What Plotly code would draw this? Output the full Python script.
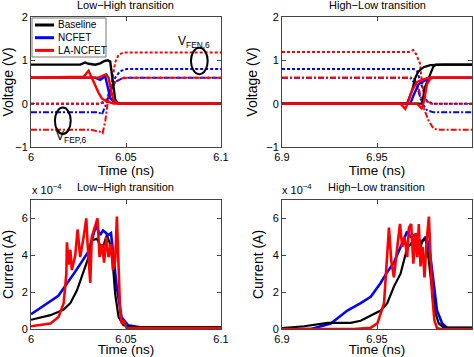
import plotly.graph_objects as go

# ---------------- data ----------------
# Top-left: Low-High transition, voltage (V) vs time (ns)
tl_black_t = [6.0, 6.0259, 6.0285, 6.0303, 6.0338, 6.0364, 6.0385, 6.0403, 6.0417, 6.0426, 6.0434, 6.0443, 6.0455, 6.0478, 6.1]
tl_black_v = [0.9, 0.9, 0.95, 0.92, 0.9, 0.93, 0.98, 1.0, 0.97, 0.7, 0.35, 0.1, 0.02, 0.0, 0.0]
tl_blue_t = [6.0, 6.0338, 6.0364, 6.0391, 6.0403, 6.0417, 6.0443, 6.047, 6.1]
tl_blue_v = [0.6, 0.6, 0.55, 0.63, 0.4, 0.12, 0.02, 0.0, 0.0]
tl_red1_t = [6.0, 6.0277, 6.0303, 6.0320, 6.0338, 6.0356, 6.0373, 6.0399, 6.0434, 6.1]
tl_red1_v = [0.6, 0.62, 0.76, 0.6, 0.4, 0.25, 0.12, 0.05, 0.0, 0.0]
tl_red2_t = [6.0, 6.0356, 6.0396, 6.0408, 6.0422, 6.0434, 6.0461, 6.1]
tl_red2_v = [0.6, 0.6, 0.68, 0.6, 0.3, 0.08, 0.0, 0.0]
tl_red_fen_t = [6.0, 6.0364, 6.0399, 6.0426, 6.0443, 6.0461, 6.0487, 6.1]
tl_red_fen_v = [0.0, 0.0, 0.1, 0.5, 0.95, 1.13, 1.18, 1.18]
tl_blue_fen_t = [6.0, 6.0364, 6.0399, 6.0422, 6.0443, 6.0469, 6.0504, 6.1]
tl_blue_fen_v = [0.0, 0.0, 0.05, 0.3, 0.6, 0.75, 0.8, 0.8]
tl_red_fep_t = [6.0, 6.0312, 6.0364, 6.0377, 6.0391, 6.0403, 6.0420, 6.0443, 6.0478, 6.0504, 6.1]
tl_red_fep_v = [-0.6, -0.6, -0.65, -0.68, -0.4, 0.0, 0.3, 0.5, 0.58, 0.6, 0.6]
tl_blue_fep_t = [6.0, 6.0356, 6.0373, 6.0396, 6.0417, 6.0443, 6.0487, 6.1]
tl_blue_fep_v = [-0.2, -0.2, -0.25, 0.0, 0.3, 0.5, 0.6, 0.6]

# Top-right: High-Low transition
tr_black1_t = [6.9, 6.9658, 6.9684, 6.9702, 6.9717, 6.9745, 6.978, 6.985, 7.0]
tr_black1_v = [0.0, 0.0, 0.3, 0.6, 0.74, 0.84, 0.89, 0.9, 0.9]
tr_black2_t = [6.9, 6.9737, 6.9753, 6.9775, 6.9796, 6.981, 7.0]
tr_black2_v = [0.0, 0.0, 0.39, 0.65, 0.85, 0.9, 0.9]
tr_blue_t = [6.9, 6.9675, 6.9693, 6.9719, 6.9746, 6.9781, 7.0]
tr_blue_v = [0.0, 0.0, 0.2, 0.45, 0.52, 0.6, 0.6]
tr_red1_t = [6.9, 6.9623, 6.9649, 6.9661, 6.9684, 6.9711, 6.9737, 6.9772, 7.0]
tr_red1_v = [0.0, 0.0, -0.12, 0.0, 0.3, 0.5, 0.55, 0.6, 0.6]
tr_red2_t = [6.9, 6.9711, 6.9737, 6.9749, 6.9763, 6.9781, 6.9798, 7.0]
tr_red2_v = [0.0, 0.0, -0.12, 0.1, 0.45, 0.58, 0.6, 0.6]
tr_red_fen_t = [6.9, 6.9668, 6.9691, 6.9705, 6.9726, 6.9735, 6.9750, 6.9775, 7.0]
tr_red_fen_v = [1.19, 1.19, 1.24, 1.15, 0.93, 0.55, 0.15, 0.0, 0.0]
tr_blue_fen_t = [6.9, 6.9693, 6.9711, 6.9737, 6.9763, 6.9798, 7.0]
tr_blue_fen_v = [0.8, 0.8, 0.75, 0.4, 0.05, 0.0, 0.0]
tr_red_fep_t = [6.9, 6.9658, 6.9693, 6.9719, 6.9746, 6.9772, 6.9798, 6.9833, 7.0]
tr_red_fep_v = [0.6, 0.6, 0.6, 0.35, -0.1, -0.4, -0.58, -0.6, -0.6]
tr_blue_fep_t = [6.9, 6.9675, 6.9711, 6.9737, 6.9763, 6.9798, 7.0]
tr_blue_fep_v = [0.6, 0.6, 0.4, 0.0, -0.15, -0.2, -0.2]

# Bottom-left: Low-High transition, current (x 1e-4 A)
bl_blue_t = [6.0, 6.0144, 6.0232, 6.0302, 6.0342, 6.0364, 6.0379, 6.0407, 6.0421, 6.0433, 6.0451, 6.0477, 6.0511, 6.0583, 6.1]
bl_blue_v = [0.8, 1.8, 3.1, 4.2, 5.6, 5.1, 5.35, 5.1, 5.2, 4.1, 2.3, 0.63, 0.2, 0.08, 0.08]
bl_black_t = [6.0, 6.0102, 6.0172, 6.0207, 6.0242, 6.0277, 6.0303, 6.0320, 6.0347, 6.0373, 6.0382, 6.0399, 6.0417, 6.0431, 6.0443, 6.0461, 6.0487, 6.0539, 6.1]
bl_black_v = [0.5, 0.75, 1.05, 1.4, 2.1, 3.2, 3.9, 4.8, 4.9, 4.35, 4.55, 5.1, 4.6, 3.5, 1.9, 0.65, 0.2, 0.1, 0.1]
bl_red_t = [6.0, 6.0102, 6.0145, 6.0172, 6.0186, 6.0189, 6.0198, 6.0207, 6.0215, 6.0233, 6.0245, 6.0259,
            6.0277, 6.0291, 6.0298, 6.0312, 6.0320, 6.0338, 6.0350, 6.0361, 6.0373, 6.0385, 6.0396, 6.0408,
            6.0422, 6.0431, 6.0443, 6.0452, 6.0461, 6.0469, 6.0478, 6.0490, 6.0504, 6.1]
bl_red_v = [0.15, 0.3, 0.65, 1.4, 3.0, 4.7, 3.5, 4.3, 3.2, 4.0, 5.4, 3.9,
            5.0, 6.0, 4.6, 2.5, 5.0, 5.6, 6.0, 3.9, 4.6, 3.6, 5.0, 3.9,
            4.6, 3.2, 3.7, 6.1, 3.5, 1.0, 0.3, 0.4, 0.05, 0.05]

# Bottom-right: High-Low transition, current (x 1e-4 A)
br_black_t = [6.9, 6.9117, 6.9240, 6.9362, 6.9414, 6.9467, 6.9519, 6.9554, 6.9589, 6.9624, 6.9642, 6.9659,
              6.9677, 6.9694, 6.9712, 6.9726, 6.9738, 6.9755, 6.9773, 6.9790, 6.9808, 6.9825, 6.9851, 7.0]
br_black_v = [0.05, 0.15, 0.33, 0.33, 0.45, 0.75, 1.0, 1.4, 2.3, 3.0, 3.7, 4.4,
              4.6, 4.9, 5.1, 4.3, 4.8, 4.9, 3.7, 2.1, 0.85, 0.3, 0.08, 0.08]
br_blue_t = [6.9, 6.9152, 6.9257, 6.9344, 6.9414, 6.9467, 6.9519, 6.9554, 6.9589, 6.9624, 6.9659, 6.9677,
             6.9712, 6.9729, 6.9755, 6.9773, 6.9799, 6.9816, 6.9843, 6.9869, 7.0]
br_blue_v = [0.0, 0.0, 0.3, 1.0, 1.4, 1.75, 2.5, 3.1, 3.6, 4.45, 5.3, 5.0,
             5.15, 4.6, 5.0, 4.6, 2.3, 1.0, 0.3, 0.07, 0.05]
br_red_t = [6.9, 6.9379, 6.9467, 6.9502, 6.9537, 6.9551, 6.9563, 6.9575, 6.9589, 6.9603, 6.9621, 6.9633,
            6.9645, 6.9659, 6.9668, 6.9680, 6.9691, 6.9703, 6.9712, 6.9720, 6.9729, 6.9740, 6.9750, 6.9760,
            6.9773, 6.9781, 6.9790, 6.9802, 6.9816, 6.9834, 7.0]
br_red_v = [0.0, 0.0, 0.07, 0.3, 1.4, 3.7, 5.5, 3.7, 2.8, 4.1, 5.7, 4.45,
            5.0, 3.9, 5.5, 5.7, 3.55, 5.2, 3.9, 5.7, 3.4, 4.45, 2.8, 4.6,
            6.1, 4.1, 1.9, 0.47, 0.05, 0.0, 0.0]

series_names = ["Baseline", "NCFET", "LA-NCFET"]
titles = ["Low\u2212High transition", "High\u2212Low transition"]

# ---------------- styles ----------------
BLACK = "#000000"
BLUE = "#0000ff"
RED = "#ff0000"
SERIES_COLORS = [BLACK, BLUE, RED]
FONT = "Liberation Sans, Arial, sans-serif"
DASH = "3px,2px"
DASHDOT = "6px,2px,2px,2px"

W, H = 474, 357


def px_x(a, b):
    return [a / W, b / W]


def px_y(top, bottom):
    return [1 - bottom / H, 1 - top / H]


fig = go.Figure()


def add(t, v, color, ax, width=2.2, dash=None, name=None):
    line = dict(color=color, width=width)
    if dash:
        line["dash"] = dash
    kw = dict(x=t, y=v, mode="lines", line=line, xaxis="x" + ax, yaxis="y" + ax,
              showlegend=False, hoverinfo="skip")
    if name:
        kw["name"] = name
    fig.add_trace(go.Scatter(**kw))


# Top-left
add(tl_blue_fen_t, tl_blue_fen_v, BLUE, "", 2, DASH)
add(tl_red_fen_t, tl_red_fen_v, RED, "", 2, DASH)
add(tl_blue_fep_t, tl_blue_fep_v, BLUE, "", 2, DASHDOT)
add(tl_red_fep_t, tl_red_fep_v, RED, "", 2, DASHDOT)
add(tl_black_t, tl_black_v, BLACK, "", 2.4, name=series_names[0])
add(tl_blue_t, tl_blue_v, BLUE, "", 2.4, name=series_names[1])
add(tl_red1_t, tl_red1_v, RED, "", 2.4, name=series_names[2])
add(tl_red2_t, tl_red2_v, RED, "", 2.4)

# Top-right
add(tr_blue_fen_t, tr_blue_fen_v, BLUE, "2", 2, DASH)
add(tr_red_fen_t, tr_red_fen_v, RED, "2", 2, DASH)
add(tr_blue_fep_t, tr_blue_fep_v, BLUE, "2", 2, DASHDOT)
add(tr_red_fep_t, tr_red_fep_v, RED, "2", 2, DASHDOT)
add(tr_black1_t, tr_black1_v, BLACK, "2", 2.2)
add(tr_black2_t, tr_black2_v, BLACK, "2", 2.2)
add(tr_blue_t, tr_blue_v, BLUE, "2", 2.4)
add(tr_red1_t, tr_red1_v, RED, "2", 2.4)
add(tr_red2_t, tr_red2_v, RED, "2", 2.4)

# Bottom-left
add(bl_blue_t, bl_blue_v, BLUE, "3", 2.6)
add(bl_black_t, bl_black_v, BLACK, "3", 2.2)
add(bl_red_t, bl_red_v, RED, "3", 2.6)

# Bottom-right
add(br_blue_t, br_blue_v, BLUE, "4", 2.6)
add(br_black_t, br_black_v, BLACK, "4", 2.2)
add(br_red_t, br_red_v, RED, "4", 2.6)

axis_common = dict(showline=True, linecolor="#444", linewidth=1, mirror="ticks",
                   ticks="inside", ticklen=4, tickcolor="#444", showgrid=False,
                   zeroline=False, automargin=False,
                   tickfont=dict(family=FONT, size=11, color="black"))

xl = px_x(31, 221)
xr = px_x(282, 472)
yt = px_y(17, 147)
yb = px_y(200, 329)

xt_title = dict(text="Time (ns)", font=dict(family=FONT, size=13.5, color="black"), standoff=3)
yt_font = dict(family=FONT, size=14, color="black")

fig.update_layout(
    width=W, height=H, margin=dict(l=0, r=0, t=0, b=0),
    paper_bgcolor="white", plot_bgcolor="white",
    font=dict(family=FONT, color="black"),
    showlegend=False,
    xaxis=dict(domain=xl, range=[6, 6.1], tickvals=[6, 6.05, 6.1], ticktext=["6", "6.05", "6.1"],
               anchor="y", title=xt_title, **axis_common),
    yaxis=dict(domain=yt, range=[-1, 2], tickvals=[-1, 0, 1, 2], anchor="x",
               title=dict(text="Voltage (V)", font=yt_font, standoff=5), **axis_common),
    xaxis2=dict(domain=xr, range=[6.9, 7.0], tickvals=[6.9, 6.95, 7.0], ticktext=["6.9", "6.95", "7"],
                anchor="y2", title=xt_title, **axis_common),
    yaxis2=dict(domain=yt, range=[-1, 2], tickvals=[-1, 0, 1, 2], anchor="x2",
                title=dict(text="Voltage (V)", font=yt_font, standoff=5), **axis_common),
    xaxis3=dict(domain=xl, range=[6, 6.1], tickvals=[6, 6.05, 6.1], ticktext=["6", "6.05", "6.1"],
                anchor="y3", title=xt_title, **axis_common),
    yaxis3=dict(domain=yb, range=[0, 7], tickvals=[0, 2, 4, 6], anchor="x3",
                title=dict(text="Current (A)", font=yt_font, standoff=5), **axis_common),
    xaxis4=dict(domain=xr, range=[6.9, 7.0], tickvals=[6.9, 6.95, 7.0], ticktext=["6.9", "6.95", "7"],
                anchor="y4", title=xt_title, **axis_common),
    yaxis4=dict(domain=yb, range=[0, 7], tickvals=[0, 2, 4, 6], anchor="x4",
                title=dict(text="Current (A)", font=yt_font, standoff=5), **axis_common),
)

ann = []
title_font = dict(family=FONT, size=11, color="black")
ann.append(dict(text=titles[0], x=126 / W, y=1 - 5 / H, xref="paper", yref="paper",
                showarrow=False, font=title_font, xanchor="center", yanchor="middle"))
ann.append(dict(text=titles[1], x=377 / W, y=1 - 5 / H, xref="paper", yref="paper",
                showarrow=False, font=title_font, xanchor="center", yanchor="middle"))
ann.append(dict(text=titles[0], x=126 / W, y=1 - 187 / H, xref="paper", yref="paper",
                showarrow=False, font=title_font, xanchor="center", yanchor="middle"))
ann.append(dict(text=titles[1], x=376 / W, y=1 - 187 / H, xref="paper", yref="paper",
                showarrow=False, font=title_font, xanchor="center", yanchor="middle"))
for xp in (30, 280):
    ann.append(dict(text="x 10<sup>\u22124</sup>", x=xp / W, y=1 - 198 / H, xref="paper", yref="paper",
                    showarrow=False, font=dict(family=FONT, size=11, color="black"),
                    xanchor="left", yanchor="bottom"))
ann.append(dict(text="V<sub>FEN,6</sub>", x=6.0858, y=1.42, xref="x", yref="y", showarrow=False,
                font=dict(family=FONT, size=12, color="black"), xanchor="center", yanchor="middle"))
ann.append(dict(text="V<sub>FEP,6</sub>", x=6.0215, y=-0.78, xref="x", yref="y", showarrow=False,
                font=dict(family=FONT, size=12, color="black"), xanchor="center", yanchor="middle"))

# legend (drawn in the top-left panel)
shapes = []
shapes.append(dict(type="rect", xref="paper", yref="paper", x0=32 / W, x1=106 / W,
                   y0=1 - 57 / H, y1=1 - 18 / H, line=dict(color="#777", width=1),
                   fillcolor="white", layer="above"))
for i, (nm, col) in enumerate(zip(series_names, SERIES_COLORS)):
    yy = 1 - (25 + 12.7 * i) / H
    shapes.append(dict(type="line", xref="paper", yref="paper", x0=35 / W, x1=54 / W,
                       y0=yy, y1=yy, line=dict(color=col, width=3), layer="above"))
    ann.append(dict(text=nm, x=56 / W, y=yy, xref="paper", yref="paper", showarrow=False,
                    font=dict(family=FONT, size=10, color="black"), xanchor="left", yanchor="middle"))

shapes.append(dict(type="circle", xref="x", yref="y", x0=6.0842, x1=6.0930, y0=0.68, y1=1.29,
                   line=dict(color="black", width=2)))
shapes.append(dict(type="circle", xref="x", yref="y", x0=6.0126, x1=6.0209, y0=-0.70, y1=-0.09,
                   line=dict(color="black", width=2)))
fig.update_layout(annotations=ann, shapes=shapes)

fig.write_html("out.html", config={"displayModeBar": False},
               post_script="document.body.style.margin='0';document.body.style.padding='0';"
                           "document.documentElement.style.overflow='hidden';")
